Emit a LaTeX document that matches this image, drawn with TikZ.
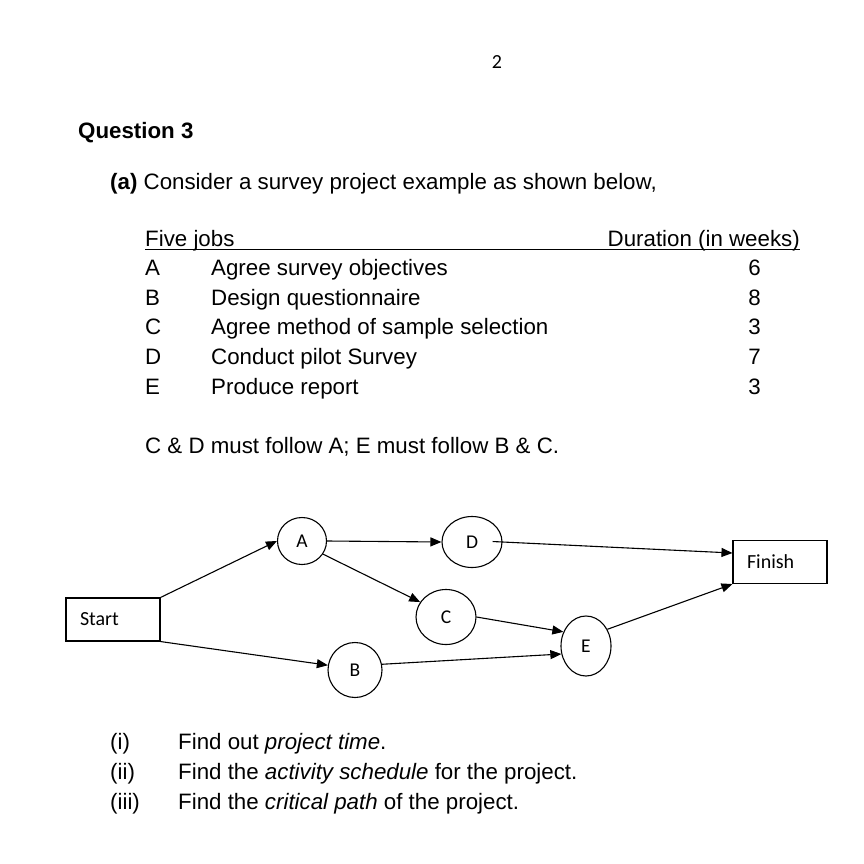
\documentclass[tikz,border=0pt]{standalone}
\usepackage{fontspec}
\setmainfont{Liberation Sans}
\newfontfamily\calibri{Carlito}
\usepackage{tikz}
\usetikzlibrary{arrows.meta,shapes.geometric}
\tikzset{
  qtext/.style={anchor=base west,inner sep=0pt,font=\fontsize{22.3}{26}\selectfont},
  qnum/.style={qtext,anchor=base east},
  jobnode/.style={ellipse,draw,line width=1.1pt,inner sep=0pt,
                  font=\calibri\fontsize{19.5}{21}\selectfont},
  endbox/.style={rectangle,draw,line width=1.1pt,minimum height=43pt,
                 text width=66pt,inner xsep=14pt,align=left,
                 font=\calibri\fontsize{20}{22}\selectfont},
  jobflow/.style={-{Triangle[length=11pt,width=9pt]},line width=1.1pt}
}

\begin{document}
\begin{tikzpicture}[x=1pt,y=-1pt]
  \useasboundingbox[fill=white] (0,0) rectangle (864,864);

  % page heading
  \node[anchor=base,inner sep=0pt,font=\calibri\fontsize{20}{22}\selectfont] (page) at (497,69) {2};
  \node[qtext,font=\fontsize{22.3}{26}\selectfont\bfseries] (qhead) at (78,139) {Question 3};
  \node[qtext] (parta) at (110,189) {\textbf{(a)} Consider a survey project example as shown below,};

  % table of jobs
  \node[qtext] (hdjobs) at (145,246) {Five jobs};
  \node[qnum] (hddur) at (800,246) {Duration (in weeks)};
  \draw[line width=1pt] ([yshift=-3pt]hdjobs.base west) -- ([yshift=-3pt]hddur.base east);

  \foreach \lt/\txt/\wk [count=\r] in {A/Agree survey objectives/6,
                                      B/Design questionnaire/8,
                                      C/Agree method of sample selection/3,
                                      D/Conduct pilot Survey/7,
                                      E/Produce report/3}{
    \node[qtext] (job\r) at (145,246+29.6*\r) {\lt};
    \node[qtext] (desc\r) at (211,246+29.6*\r) {\txt};
    \node[qnum] (wk\r) at (761,246+29.6*\r) {\wk};
  }

  \node[qtext] (rule) at (145,453) {C \& D must follow A; E must follow B \& C.};

  % network
  \node[endbox] (start) at (113,619.5) {Start};
  \node[endbox] (finish) at (780,562) {Finish};

  \node[jobnode,minimum width=49pt,minimum height=47pt] (A) at (302,541) {A};
  \node[jobnode,minimum width=60pt,minimum height=51pt] (D) at (472,542) {D};
  \node[jobnode,minimum width=60pt,minimum height=55pt] (C) at (446,617) {C};
  \node[jobnode,minimum width=54pt,minimum height=55pt] (B) at (355,670) {B};
  \node[jobnode,minimum width=50pt,minimum height=60pt] (E) at (586,646) {E};

  \draw[jobflow] (start.north east) -- (A.west);
  \draw[jobflow] (start.south east) -- (B.170);
  \draw[jobflow] (A.east) -- (D.west);
  \draw[jobflow] (A.-32) -- (C.150);
  \draw[jobflow,shorten <=-10pt] (D.east) -- ([yshift=9pt]finish.west);
  \draw[jobflow] (C.east) -- (E.148);
  \draw[jobflow] (B.12) -- (E.198);
  \draw[jobflow] (E.38) -- (finish.south west);

  % questions
  \foreach \num/\txt [count=\r] in {(i)/Find out \textit{project time}.,
                                   (ii)/Find the \textit{activity schedule} for the project.,
                                   (iii)/Find the \textit{critical path} of the project.}{
    \node[qtext] (qn\r) at (110,719+30*\r) {\num};
    \node[qtext] (qt\r) at (178,719+30*\r) {\txt};
  }
\end{tikzpicture}
\end{document}
